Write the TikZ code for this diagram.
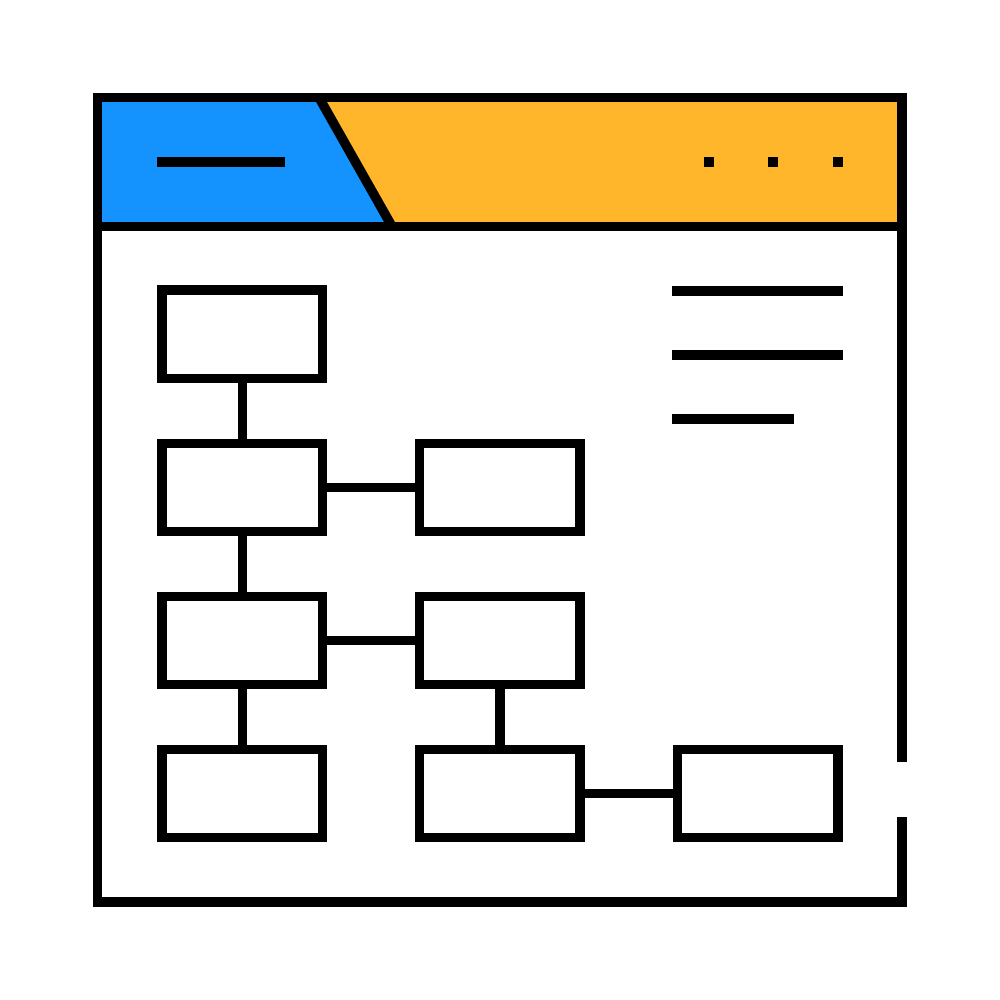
\documentclass[tikz,border=0pt]{standalone}
\usepackage{tikz}
\usetikzlibrary{positioning}
\definecolor{tabblue}{RGB}{20,146,254}
\definecolor{barorange}{RGB}{255,182,42}

\begin{document}
\begin{tikzpicture}[x=0.01cm, y=-0.01cm, line width=2.7pt, line join=miter, node distance=0.65cm and 0.97cm]
    \tikzstyle{block}=[draw=black,rectangle,fill=white,minimum width=1.605cm,minimum height=0.88cm,inner sep=0pt,outer sep=0pt]
    \tikzstyle{dot}=[fill=black,rectangle,minimum size=0.1cm,inner sep=0pt]
    \useasboundingbox (0,0) rectangle (1000,1000);

    % window header
    \coordinate (tl) at (97.5,97.5);
    \coordinate (tr) at (902,97.5);
    \coordinate (hl) at (97.5,226.5);
    \coordinate (hr) at (902,226.5);
    \coordinate (tabtop) at (319,97.5);
    \coordinate (tabbot) at (392,226.5);
    \fill[tabblue] (tl) -- (tabtop) -- (tabbot) -- (hl) -- cycle;
    \fill[barorange] (tabtop) -- (tr) -- (hr) -- (tabbot) -- cycle;
    \draw (tabtop) -- (tabbot);
    \draw (hl) -- (hr);
    \draw (157,162) -- (285,162);
    \node[dot] (d1) at (709,162) {};
    \node[dot] (d2) at (773,162) {};
    \node[dot] (d3) at (838,162) {};

    % frame with gap on the right
    \coordinate (gaptop) at (902,762);
    \coordinate (gapbot) at (902,817);
    \draw (gaptop) -- (tr) -- (tl) -- (97.5,902) -- (902,902) -- (gapbot);

    % text lines
    \draw (672,291) -- (843,291);
    \draw (672,355) -- (843,355);
    \draw (672,419) -- (794,419);

    % flow chart
    \node[block] (b1) at (242.25,334.25) {};
    \node[block, below=of b1] (b2) {};
    \node[block, right=of b2] (b3) {};
    \node[block, below=of b2] (b4) {};
    \node[block, right=of b4] (b5) {};
    \node[block, below=of b4] (b6) {};
    \node[block, right=of b6] (b7) {};
    \node[block, right=of b7] (b8) {};

    \draw (b1) -- (b2);
    \draw (b2) -- (b3);
    \draw (b2) -- (b4);
    \draw (b4) -- (b5);
    \draw (b4) -- (b6);
    \draw (b5) -- (b7);
    \draw (b7) -- (b8);
\end{tikzpicture}
\end{document}
